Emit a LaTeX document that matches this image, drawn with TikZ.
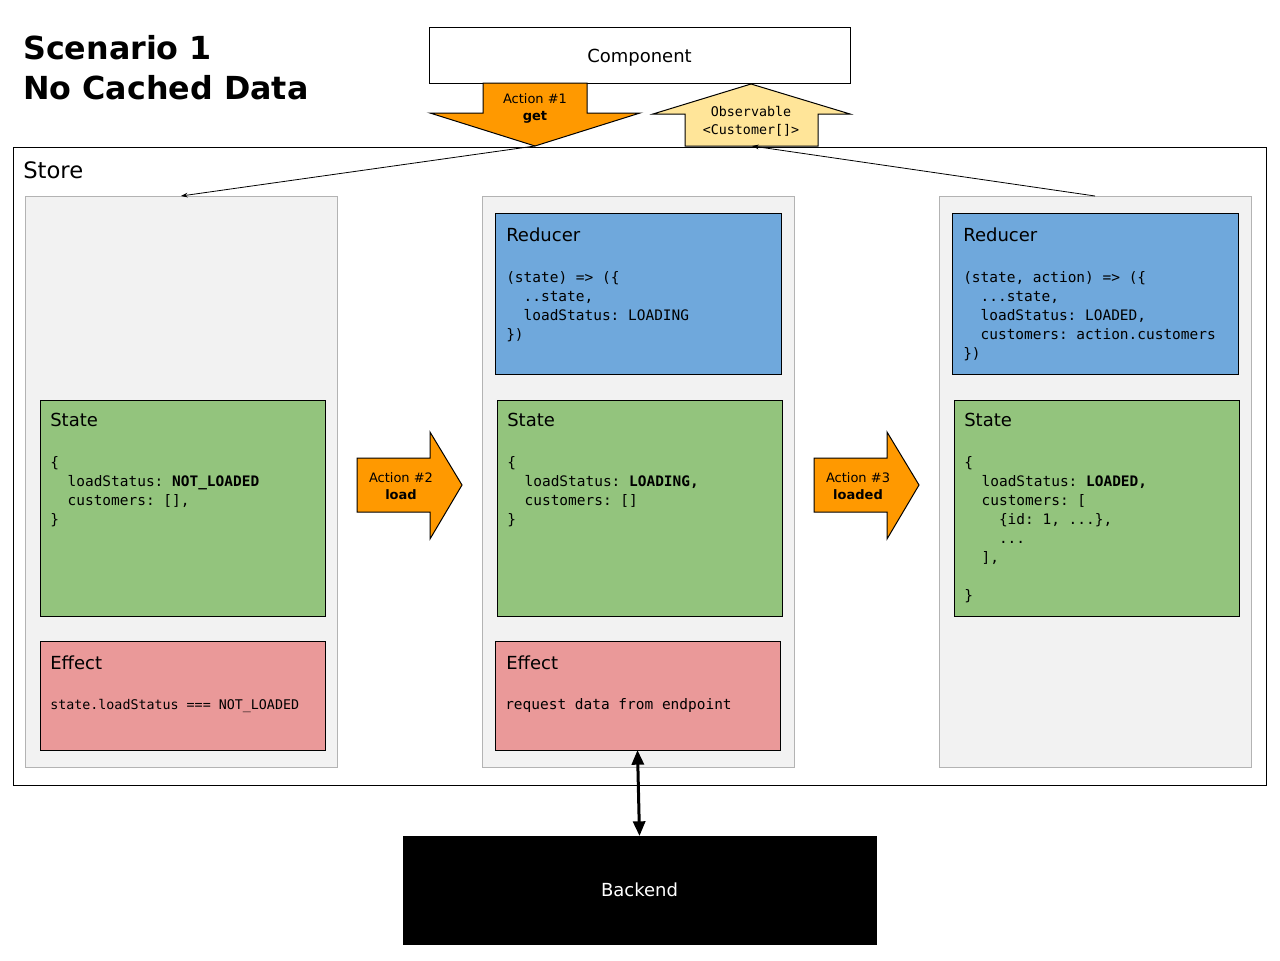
\documentclass[tikz,border=0pt]{standalone}
\usepackage{fontspec}
\setmainfont{DejaVu Sans}
\setmonofont{DejaVu Sans Mono}
\usetikzlibrary{calc,arrows.meta}

\definecolor{reducerblue}{HTML}{6FA8DC}
\definecolor{stategreen}{HTML}{93C47D}
\definecolor{effectred}{HTML}{EA9999}
\definecolor{actionorange}{HTML}{FF9900}
\definecolor{obsyellow}{HTML}{FFE599}
\definecolor{panelfill}{HTML}{F2F2F2}
\definecolor{panelline}{HTML}{B3B3B3}

\newcommand{\codeind}{\hspace*{1.2em}}

\tikzset{
    plainbox/.style={draw=black, line width=0.75pt, anchor=north west, outer sep=0pt, inner sep=0pt},
    panel/.style={plainbox, draw=panelline, fill=panelfill, minimum width=234pt, minimum height=428.25pt},
    reducer/.style={plainbox, fill=reducerblue, minimum width=214.5pt, minimum height=120.75pt},
    statebox/.style={plainbox, fill=stategreen, minimum width=213.75pt, minimum height=162pt},
    effect/.style={plainbox, fill=effectred, minimum width=213.75pt, minimum height=81.75pt},
    heading/.style={anchor=base west, inner sep=0pt, font=\fontsize{13.5}{16}\selectfont},
    code/.style={anchor=north west, inner sep=0pt, align=left, font=\ttfamily\fontsize{10.85}{14.25}\selectfont},
    actiontext/.style={align=center, inner sep=0pt, font=\fontsize{9.75}{12.75}\selectfont},
    blockarrow/.style={fill=actionorange, draw=black, line width=0.75pt},
    thinarrow/.style={line width=0.6pt, -{Stealth[length=5pt, width=3.5pt]}},
}

\begin{document}
\begin{tikzpicture}[x=0.75pt, y=-0.75pt]
    \useasboundingbox (0,0) rectangle (1280,960);

    % Title
    \node[anchor=north west, inner sep=0pt, align=left, font=\bfseries\fontsize{23.8}{30}\selectfont] (title) at (23,35) {Scenario 1\\No Cached Data};

    % Component on top
    \node[plainbox, fill=white, minimum width=315.75pt, minimum height=42pt, font=\fontsize{13.5}{16}\selectfont] (component) at (429,27) {};
    \node[font=\fontsize{13.5}{16}\selectfont, yshift=-2pt] (componentlabel) at (component.center) {Component};

    % Store with its three columns
    \node[plainbox, minimum width=939.75pt, minimum height=478.5pt] (store) at (13,147) {};
    \node[heading, font=\fontsize{17}{20}\selectfont] (storelabel) at (23,178) {Store};

    \foreach \x/\n in {25/1, 482/2, 939/3}
        \node[panel] (col\n) at (\x,196) {};

    % Reducers
    \node[reducer] (reducer2) at (495,213) {};
    \node[reducer] (reducer3) at (952,213) {};
    \node[heading] (reducer2title) at (506,241) {Reducer};
    \node[heading] (reducer3title) at (963,241) {Reducer};
    \node[code] (reducer2code) at (506,271) {(state) => (\{\\\codeind ..state,\\\codeind loadStatus: LOADING\\\})};
    \node[code] (reducer3code) at (963,271) {(state, action) => (\{\\\codeind ...state,\\\codeind loadStatus: LOADED,\\\codeind customers: action.customers\\\})};

    % States
    \node[statebox] (state1) at (40,400) {};
    \node[statebox] (state2) at (497,400) {};
    \node[statebox] (state3) at (954,400) {};
    \node[heading] (state1title) at (50,426) {State};
    \node[heading] (state2title) at (507,426) {State};
    \node[heading] (state3title) at (964,426) {State};
    \node[code] (state1code) at (50,456) {\{\\\codeind loadStatus: \textbf{NOT\_LOADED}\\\codeind customers: [],\\\}};
    \node[code] (state2code) at (507,456) {\{\\\codeind loadStatus: \textbf{LOADING,}\\\codeind customers: []\\\}};
    \node[code] (state3code) at (964,456) {\{\\\codeind loadStatus: \textbf{LOADED,}\\\codeind customers: [\\\codeind\codeind\{id: 1, ...\},\\\codeind\codeind ...\\\codeind ],\\[14.25pt]\}};

    % Effects
    \node[effect] (effect1) at (40,641) {};
    \node[effect] (effect2) at (495,641) {};
    \node[heading] (effect1title) at (50,669) {Effect};
    \node[heading] (effect2title) at (506,669) {Effect};
    \node[code, font=\ttfamily\fontsize{10}{13}\selectfont] (effect1code) at (50,699) {state.loadStatus === NOT\_LOADED};
    \node[code] (effect2code) at (505,698) {request data from endpoint};

    % Action #1 going down into the store
    \filldraw[blockarrow] (483,83) -- (587,83) -- (587,113) -- (640,113) -- (535,146) -- (430,113) -- (483,113) -- cycle;
    \node[actiontext] (action1) at (535,108) {Action \#1\\\textbf{get}};

    % Observable going back up to the component
    \filldraw[fill=obsyellow, draw=black, line width=0.75pt] (685,146) -- (685,114) -- (653,114) -- (751,84) -- (850,114) -- (818,114) -- (818,146) -- cycle;
    \node[actiontext, font=\ttfamily\fontsize{10}{13.5}\selectfont] (observable) at (751,121) {Observable\\<Customer[]>};

    % Actions between the columns
    \foreach \dx/\n/\lbl in {0/2/load, 457/3/loaded} {
        \filldraw[blockarrow] (357+\dx,458) -- (430+\dx,458) -- (430+\dx,432) -- (462+\dx,485) -- (430+\dx,539) -- (430+\dx,512) -- (357+\dx,512) -- cycle;
        \node[actiontext] (action\n) at (401+\dx,486) {Action \#\n\\\textbf{\lbl}};
    }

    % Thin connectors
    \coordinate (a1tip) at (535,146);
    \coordinate (obsbase) at (752,146);
    \draw[thinarrow] (a1tip) -- (col1.north);
    \draw[thinarrow] (col3.north) -- (obsbase);

    % Backend
    \node[plainbox, fill=black, text=white, minimum width=354.75pt, minimum height=81pt, font=\fontsize{13.5}{16}\selectfont] (backend) at (403,836) {Backend};
    \draw[line width=2.25pt, {Triangle[length=11pt, width=9pt]}-{Triangle[length=11pt, width=9pt]}] (effect2.south) -- (backend.north);

\end{tikzpicture}
\end{document}
